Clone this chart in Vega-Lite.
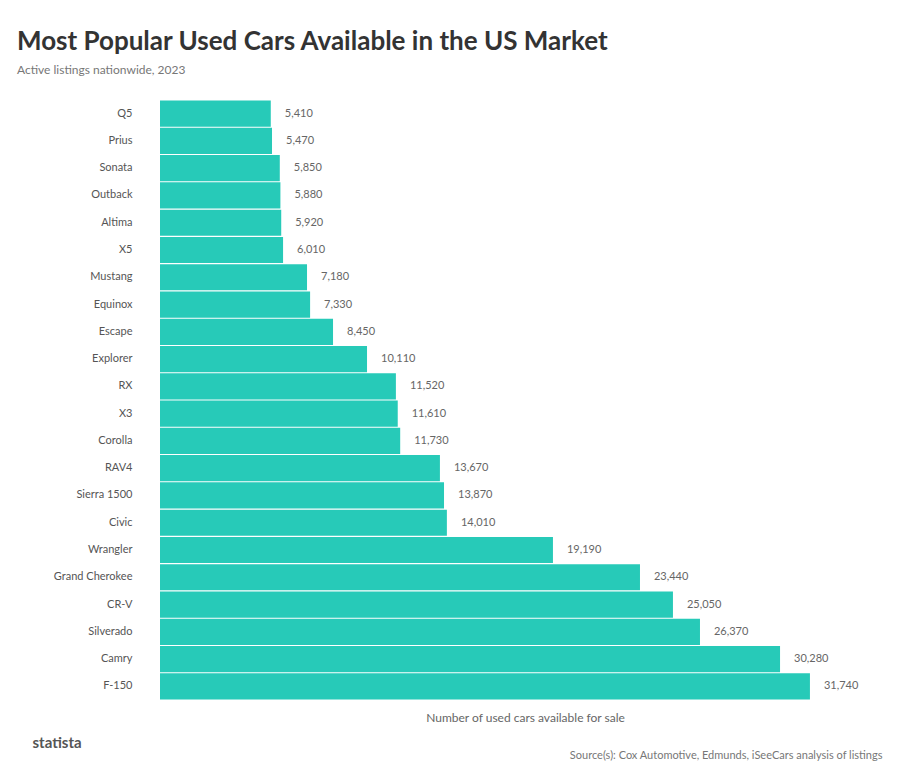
{
  "$schema": "https://vega.github.io/schema/vega-lite/v6.json",
  "autosize": "none",
  "width": 730,
  "height": 600,
  "padding": {"left": 160, "top": 100, "right": 29, "bottom": 69},
  "background": "white",
  "title": {
    "text": "Most Popular Used Cars Available in the US Market",
    "subtitle": "Active listings nationwide, 2023",
    "anchor": "start",
    "frame": "group",
    "dx": -143,
    "offset": 24,
    "font": "Lato",
    "fontSize": 26,
    "fontWeight": "bold",
    "color": "#333333",
    "subtitleFont": "Lato",
    "subtitleFontSize": 12,
    "subtitleColor": "#777777",
    "subtitlePadding": 10
  },
  "data": {
    "values": [
      {"model": "Q5", "listings": 5410},
      {"model": "Prius", "listings": 5470},
      {"model": "Sonata", "listings": 5850},
      {"model": "Outback", "listings": 5880},
      {"model": "Altima", "listings": 5920},
      {"model": "X5", "listings": 6010},
      {"model": "Mustang", "listings": 7180},
      {"model": "Equinox", "listings": 7330},
      {"model": "Escape", "listings": 8450},
      {"model": "Explorer", "listings": 10110},
      {"model": "RX", "listings": 11520},
      {"model": "X3", "listings": 11610},
      {"model": "Corolla", "listings": 11730},
      {"model": "RAV4", "listings": 13670},
      {"model": "Sierra 1500", "listings": 13870},
      {"model": "Civic", "listings": 14010},
      {"model": "Wrangler", "listings": 19190},
      {"model": "Grand Cherokee", "listings": 23440},
      {"model": "CR-V", "listings": 25050},
      {"model": "Silverado", "listings": 26370},
      {"model": "Camry", "listings": 30280},
      {"model": "F-150", "listings": 31740}
    ]
  },
  "encoding": {
    "y": {
      "field": "model",
      "type": "nominal",
      "sort": {"field": "listings", "order": "ascending"},
      "scale": {"paddingInner": 0.04, "paddingOuter": 0.02},
      "axis": {
        "title": "statista",
        "titleAngle": 0,
        "titleX": -128,
        "titleY": 642,
        "titleAlign": "left",
        "titleBaseline": "middle",
        "titleFont": "Lato",
        "titleFontSize": 15,
        "titleFontWeight": "bold",
        "titleColor": "#555555",
        "domain": false,
        "ticks": false,
        "labelPadding": 28,
        "labelFont": "Lato",
        "labelFontSize": 11,
        "labelColor": "#555555"
      }
    },
    "x": {
      "field": "listings",
      "type": "quantitative",
      "scale": {"domain": [0, 35650], "nice": false},
      "axis": null
    }
  },
  "layer": [
    {
      "mark": {"type": "bar", "color": "#27cab8"},
      "encoding": {
        "x": {
          "field": "listings",
          "type": "quantitative",
          "axis": {
            "title": "Number of used cars available for sale",
            "labels": false,
            "ticks": false,
            "domain": false,
            "grid": false,
            "titlePadding": 12,
            "titleFont": "Lato",
            "titleFontSize": 12,
            "titleFontWeight": "normal",
            "titleColor": "#666666"
          }
        }
      }
    },
    {
      "mark": {"type": "text", "align": "left", "baseline": "middle", "dx": 14, "font": "Lato", "fontSize": 11, "color": "#666666"},
      "encoding": {
        "text": {"field": "listings", "type": "quantitative", "format": ","},
        "x": {
          "field": "listings",
          "type": "quantitative",
          "axis": {
            "orient": "top",
            "title": "Source(s): Cox Automotive, Edmunds, iSeeCars analysis of listings",
            "labels": false,
            "ticks": false,
            "domain": false,
            "grid": false,
            "titleX": 722,
            "titleY": 660,
            "titleAlign": "right",
            "titleFont": "Lato",
            "titleFontSize": 11,
            "titleFontWeight": "normal",
            "titleColor": "#777777"
          }
        }
      }
    }
  ],
  "resolve": {"axis": {"x": "independent"}},
  "config": {"view": {"stroke": null}}
}
